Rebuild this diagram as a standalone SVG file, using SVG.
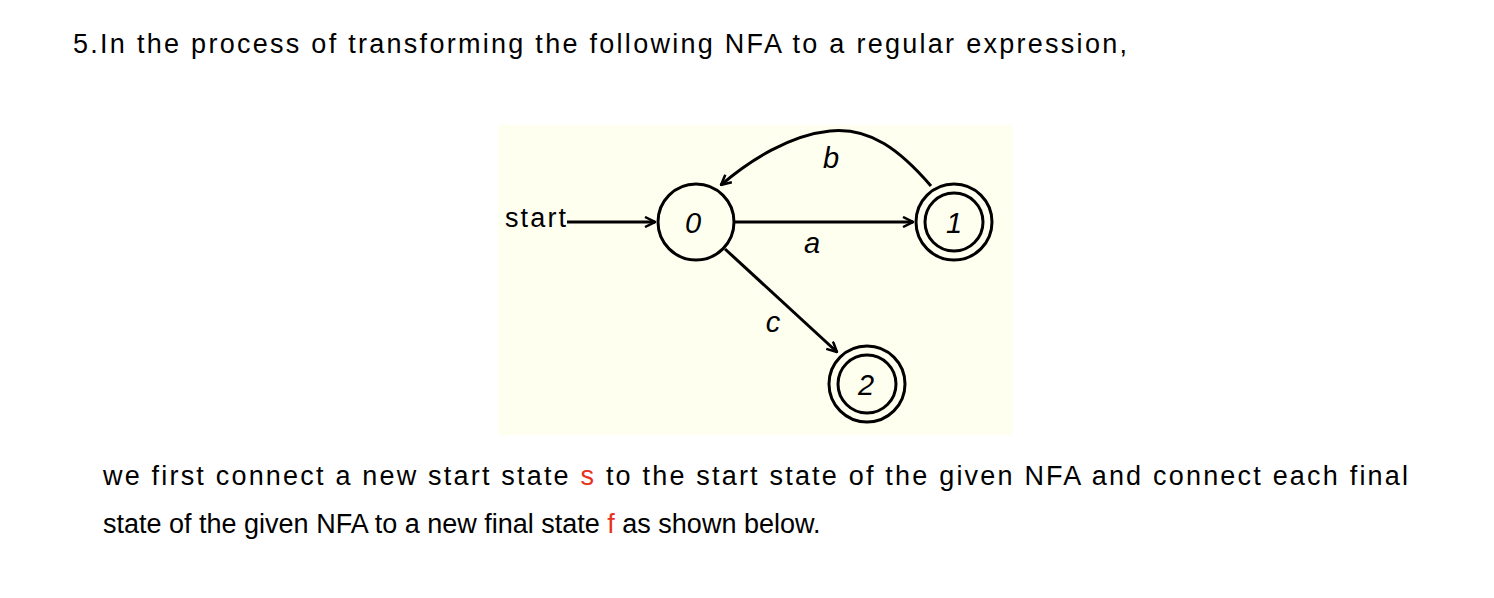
<svg xmlns="http://www.w3.org/2000/svg" width="1494" height="598" viewBox="0 0 1494 598">
<style>
.t{font-family:"Liberation Sans",Arial,sans-serif;font-size:27px;fill:#000}
.l{font-family:"Liberation Sans",Arial,sans-serif;font-size:29px;font-style:italic;fill:#000;text-anchor:middle}
.n{fill:none;stroke:#000;stroke-width:3}
.e{fill:none;stroke:#000;stroke-width:3}
.r{fill:#e8321e}
</style>
<defs>
<marker id="ah" viewBox="0 0 12 12" refX="11" refY="6" markerWidth="12" markerHeight="12" markerUnits="userSpaceOnUse" orient="auto">
<path d="M1,1 L11,6 L1,11" fill="none" stroke="#000" stroke-width="2.5"/>
</marker>
</defs>
<rect width="1494" height="598" fill="#fff"/>
<text class="t" x="73" y="53" textLength="1054">5.In the process of transforming the following NFA to a regular expression,</text>
<rect x="498" y="125" width="515" height="310" fill="#fffff0"/>
<text class="t" x="505" y="227" font-size="27" textLength="61">start</text>
<g id="connectors">
<line class="e" x1="567" y1="222" x2="655" y2="222" marker-end="url(#ah)"/>
<line class="e" x1="735" y1="222" x2="913" y2="222" marker-end="url(#ah)"/>
<path class="e" d="M931,186 C900,150 870,127 830,131 C790,135 750,160 721,185" marker-end="url(#ah)"/>
<line class="e" x1="725" y1="249" x2="837" y2="352" marker-end="url(#ah)"/>
<text class="l" x="831" y="168">b</text>
<text class="l" x="812" y="253">a</text>
<text class="l" x="773" y="332">c</text>
</g>
<g id="node0"><circle class="n" cx="696" cy="222" r="38"/><text class="l" x="693" y="233">0</text></g>
<g id="node1"><circle class="n" cx="954" cy="222" r="38"/><circle class="n" cx="954" cy="222" r="29"/><text class="l" x="954" y="233" font-size="26">1</text></g>
<g id="node2"><circle class="n" cx="867" cy="384" r="38"/><circle class="n" cx="867" cy="384" r="29"/><text class="l" x="866" y="395" font-size="26">2</text></g>
<text class="t" x="103" y="485" textLength="1305">we first connect a new start state <tspan class="r">s</tspan> to the start state of the given NFA and connect each final</text>
<text class="t" x="103" y="533">state of the given NFA to a new final state <tspan class="r">f</tspan> as shown below.</text>
</svg>
